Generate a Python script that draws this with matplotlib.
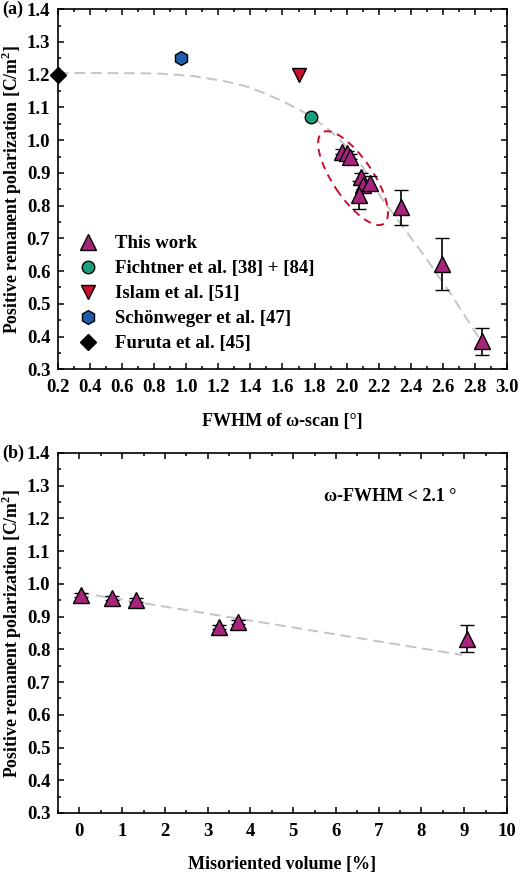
import matplotlib
matplotlib.use('Agg')
import matplotlib.pyplot as plt
from matplotlib.patches import Ellipse
from matplotlib.ticker import MultipleLocator
from matplotlib.transforms import ScaledTranslation

plt.rcParams['font.family'] = ['Liberation Serif', 'DejaVu Serif']
plt.rcParams['font.weight'] = 'bold'
plt.rcParams['axes.labelweight'] = 'bold'
plt.rcParams['mathtext.fontset'] = 'custom'
plt.rcParams['mathtext.rm'] = 'Liberation Serif:bold'
plt.rcParams['mathtext.bf'] = 'Liberation Serif:bold'

# ---- panel (a) data: Pr vs omega-scan FWHM ----
this_fwhm = [1.97, 2.00, 2.02, 2.09, 2.10, 2.145, 2.08, 2.34, 2.595, 2.845]
this_pr = [0.965, 0.960, 0.950, 0.888, 0.862, 0.870, 0.833, 0.795, 0.622, 0.385]
this_err = [0.008, 0.008, 0.008, 0.012, 0.012, 0.020, 0.042, 0.053, 0.080, 0.040]

fichtner_fwhm = [1.78]
fichtner_pr = [1.07]
islam_fwhm = [1.70]
islam_pr = [1.20]
schoenweger_fwhm = [0.97]
schoenweger_pr = [1.25]
furuta_fwhm = [0.2]
furuta_pr = [1.20]

# guide curve
guide_a_x = [0.2, 0.5, 0.815, 1.044, 1.252, 1.376, 1.48, 1.605, 1.709, 1.78, 1.9,
             2.0, 2.1, 2.228, 2.29, 2.488, 2.65, 2.82, 2.85]
guide_a_y = [1.205, 1.205, 1.204, 1.196, 1.179, 1.164, 1.145, 1.118, 1.092, 1.072,
             1.028, 0.98, 0.918, 0.815, 0.776, 0.644, 0.53, 0.40, 0.377]

# ---- panel (b) data: Pr vs misoriented volume ----
mis_vol = [0.04, 0.77, 1.33, 3.26, 3.71, 9.06]
mis_pr = [0.965, 0.958, 0.950, 0.868, 0.883, 0.832]
mis_err = [0.006, 0.006, 0.006, 0.006, 0.006, 0.041]
guide_b_x = [0.0, 8.95]
guide_b_y = [0.973, 0.783]

purple = '#A6247A'
green = '#1B9E7E'
red = '#C8102E'
blue = '#1F5CAA'
grey = '#C4C4C4'

fig = plt.figure(figsize=(5.2, 8.74), dpi=100)
ax1 = fig.add_axes([0.1115, 0.5775, 0.8635, 0.4119])
ax2 = fig.add_axes([0.1115, 0.0698, 0.8635, 0.4119])


def style_axes(ax, xmajor, xminor):
    ax.xaxis.set_major_locator(MultipleLocator(xmajor))
    ax.xaxis.set_minor_locator(MultipleLocator(xminor))
    ax.yaxis.set_major_locator(MultipleLocator(0.1))
    ax.yaxis.set_minor_locator(MultipleLocator(0.05))
    ax.tick_params(which='both', direction='in', top=True, right=True, width=1.1)
    ax.tick_params(which='major', length=4.5, labelsize=13.5)
    ax.tick_params(axis='x', which='major', pad=7)
    ax.tick_params(axis='y', which='major', pad=5.5)
    ax.tick_params(which='minor', length=2.5)
    for s in ax.spines.values():
        s.set_linewidth(1.2)
    ax.set_ylim(0.3, 1.4)
    ax.set_ylabel('Positive remanent polarization [C/m$^2$]', fontsize=12.8, labelpad=2)


# panel (a)
ax1.plot(guide_a_x, guide_a_y, '--', color=grey, lw=1.4, dashes=(5.5, 3), zorder=1)
ax1.errorbar(this_fwhm, this_pr, yerr=this_err, fmt='^', color='black', ms=11,
             mfc=purple, mec='black', mew=1.0, ecolor='black', elinewidth=1.2,
             capsize=5, capthick=1.2, zorder=3)
h_this, = ax1.plot([], [], '^', ms=11, mfc=purple, mec='black', mew=1.0, ls='none')
h_fich, = ax1.plot(fichtner_fwhm, fichtner_pr, 'o', ms=9, mfc=green, mec='black', mew=1.0,
                   ls='none', zorder=3)
h_isl, = ax1.plot(islam_fwhm, islam_pr, 'v', ms=10, mfc=red, mec='black', mew=1.0,
                  ls='none', zorder=3)
h_sch, = ax1.plot(schoenweger_fwhm, schoenweger_pr, 'h', ms=10, mfc=blue, mec='black', mew=1.0,
                  ls='none', zorder=3)
h_fur, = ax1.plot(furuta_fwhm, furuta_pr, 'D', ms=8, mfc='black', mec='black',
                  ls='none', zorder=3, clip_on=False)

# dashed ellipse around the cluster (size in inches, centred in data coords)
ell = Ellipse((0, 0), width=1.10, height=0.40, angle=-56, fill=False,
              edgecolor=red, lw=1.4, ls=(0, (4, 3)),
              transform=fig.dpi_scale_trans + ScaledTranslation(2.04, 0.884, ax1.transData))
ax1.add_patch(ell)

ax1.set_xlim(0.2, 3.0)
style_axes(ax1, 0.2, 0.1)
ax1.set_xlabel('FWHM of ω-scan [°]', fontsize=13, labelpad=12)
ax1.legend([h_this, h_fich, h_isl, h_sch, h_fur],
           ['This work', 'Fichtner et al. [38] + [84]', 'Islam et al. [51]',
            'Schönweger et al. [47]', 'Furuta et al. [45]'],
           loc='lower left', frameon=False, fontsize=13.5, handletextpad=0.75,
           labelspacing=0.42, borderaxespad=0.5, handlelength=1.4)

# panel (b)
ax2.plot(guide_b_x, guide_b_y, '--', color=grey, lw=1.4, dashes=(5.5, 3), zorder=1)
ax2.errorbar(mis_vol, mis_pr, yerr=mis_err, fmt='^', color='black', ms=11,
             mfc=purple, mec='black', mew=1.0, ecolor='black', elinewidth=1.2,
             capsize=5, capthick=1.2, zorder=3)
ax2.set_xlim(-0.5, 10)
style_axes(ax2, 1, 0.5)
ax2.set_xlabel('Misoriented volume [%]', fontsize=13, labelpad=12)
ax2.text(7.26, 1.266, 'ω-FWHM < 2.1 °', fontsize=13, ha='center', va='center')

fig.text(0.004, 0.989, '(a)', fontsize=13, va='center', ha='left')
fig.text(0.004, 0.481, '(b)', fontsize=13, va='center', ha='left')

# bold tick labels
fig.canvas.draw()
for ax in (ax1, ax2):
    plt.setp(ax.get_xticklabels() + ax.get_yticklabels(), fontweight='bold')

fig.savefig('out.png', dpi=100)
